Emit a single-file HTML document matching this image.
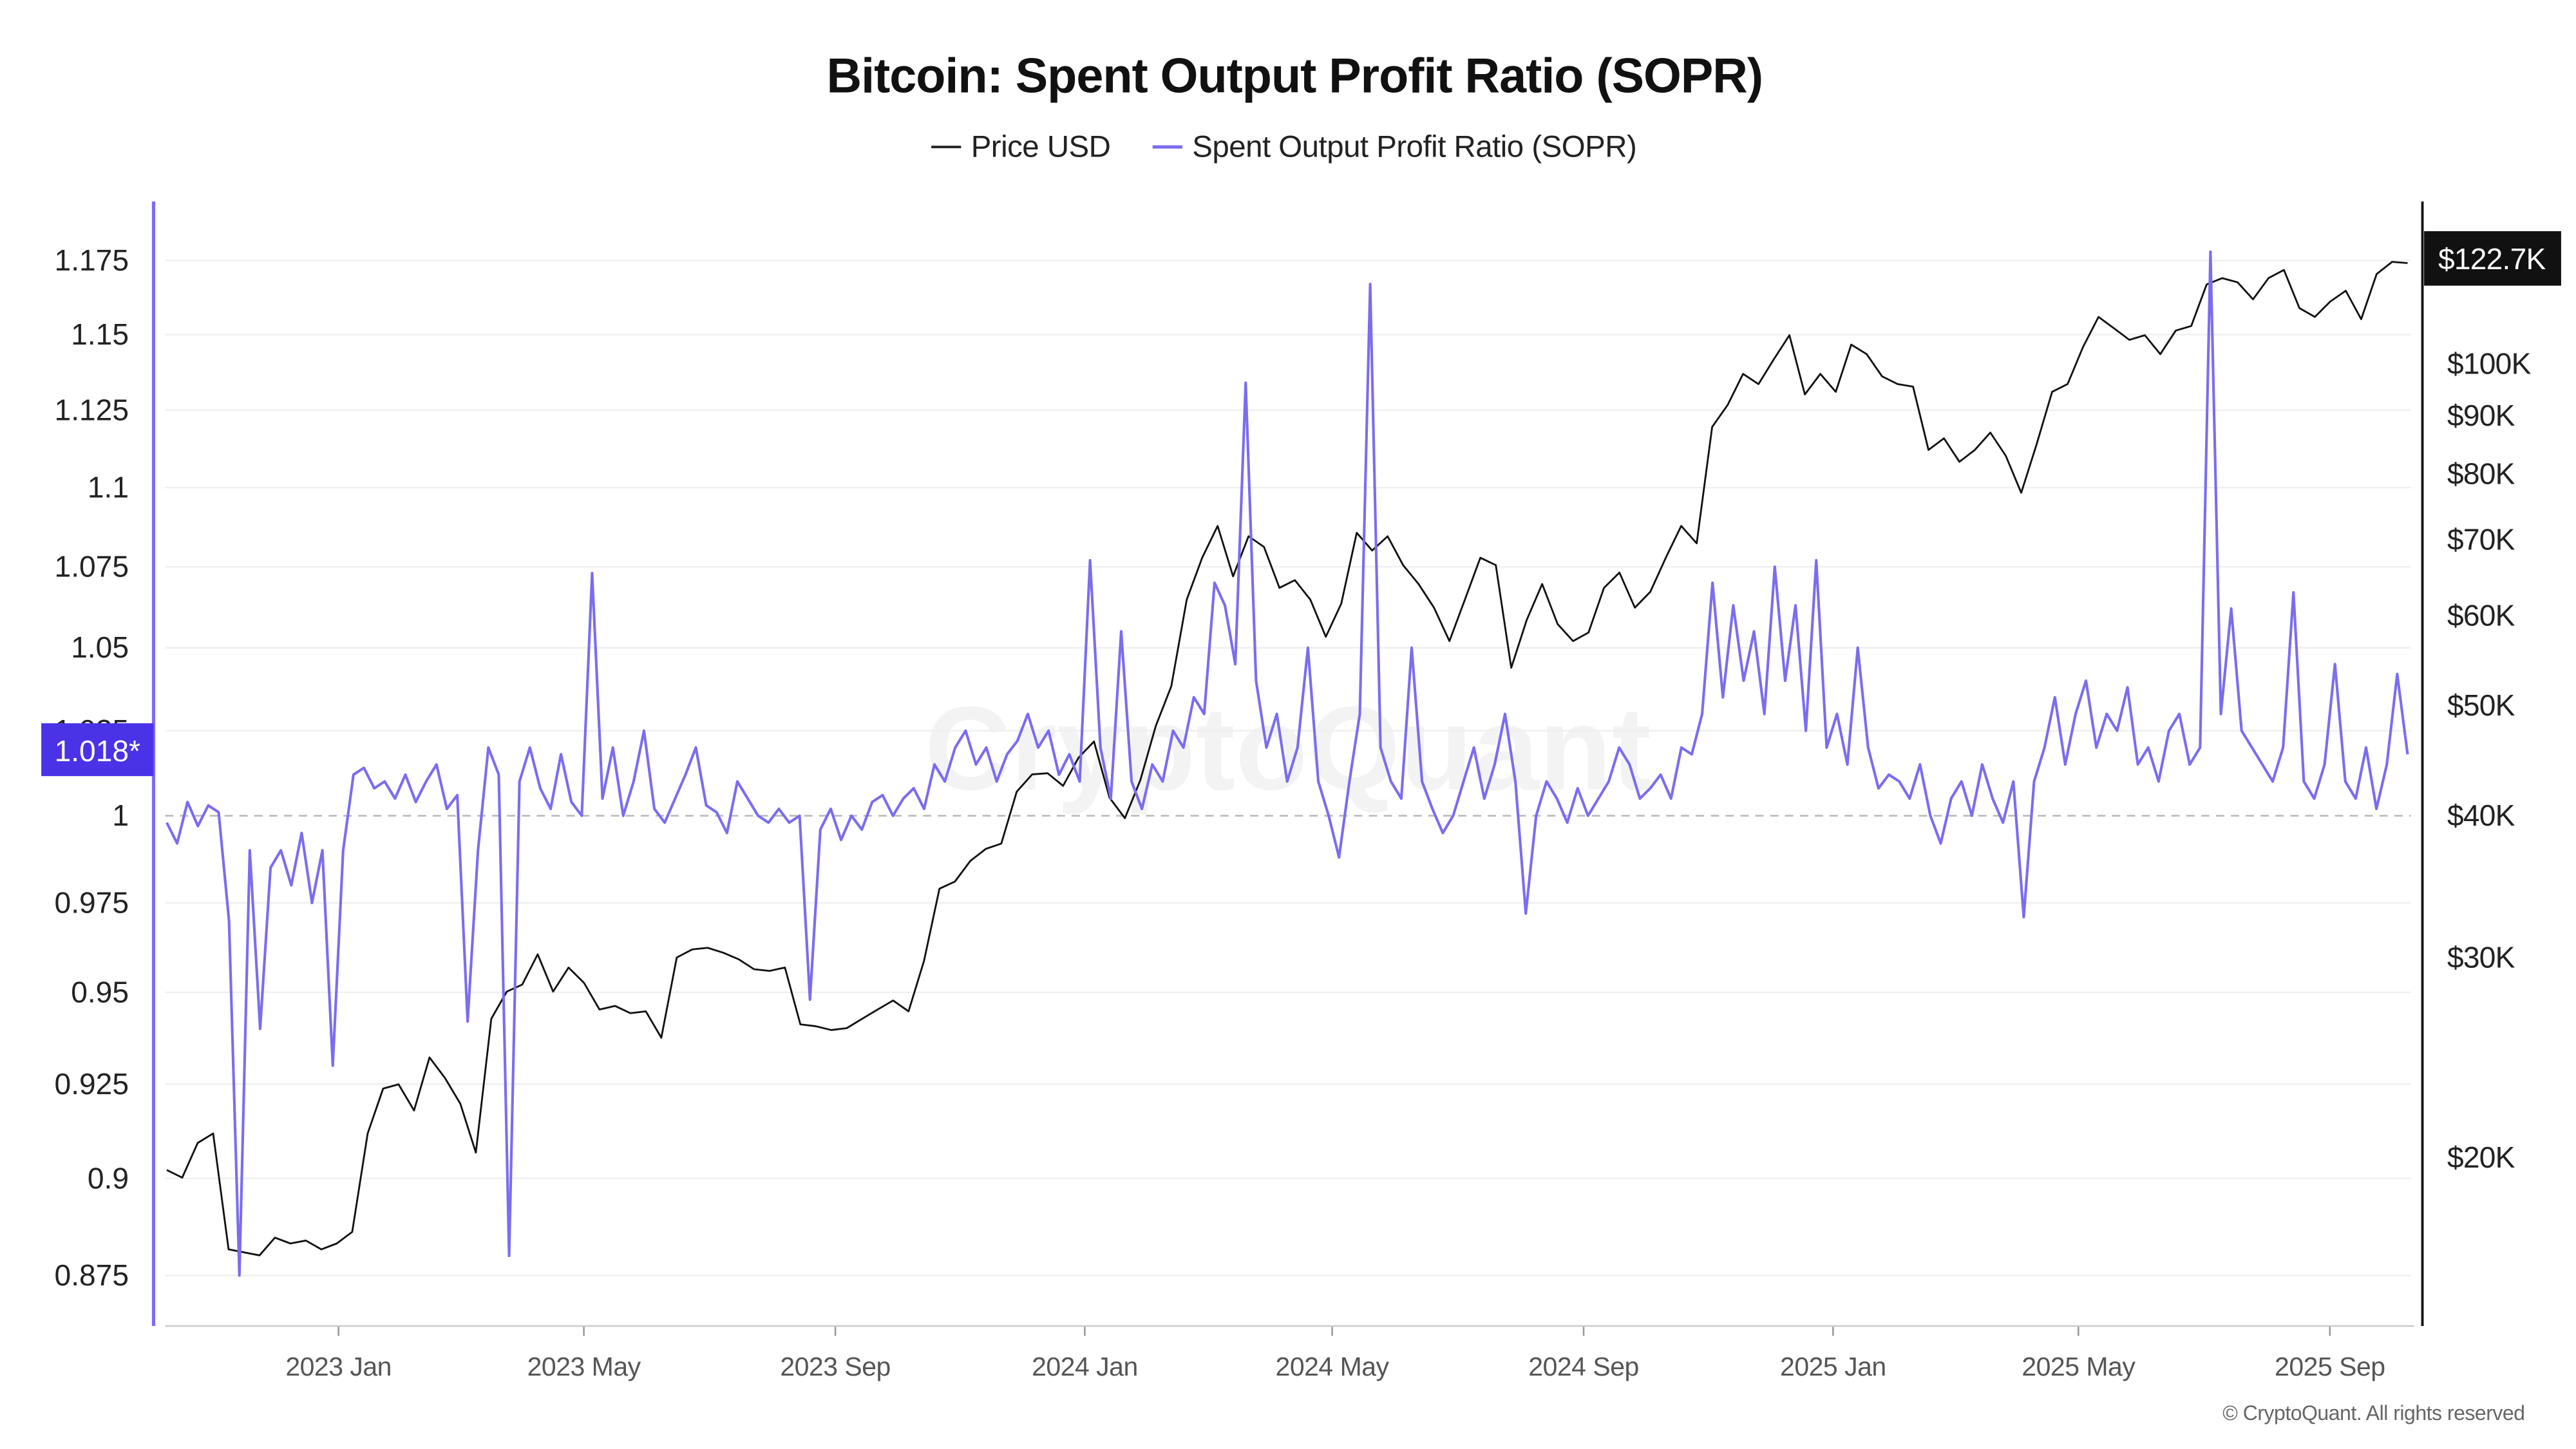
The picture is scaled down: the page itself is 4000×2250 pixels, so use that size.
<!DOCTYPE html>
<html><head><meta charset="utf-8">
<style>
html,body{margin:0;padding:0;background:#fff;}
svg{display:block;font-family:"Liberation Sans",sans-serif;}
</style></head>
<body>
<svg id="chart" width="4000" height="2250" viewBox="0 0 1560 877.5" preserveAspectRatio="none" xmlns="http://www.w3.org/2000/svg">
<rect x="0" y="0" width="1560" height="877.5" fill="#fff"/>
<text x="784" y="56" text-anchor="middle" font-size="29.5" font-weight="bold" fill="#111" letter-spacing="-0.4">Bitcoin: Spent Output Profit Ratio (SOPR)</text>
<g>
  <g>
    <line x1="564" y1="89" x2="582" y2="89" stroke="#222" stroke-width="1.5"/>
    <text x="588" y="95" font-size="18.5" fill="#222" letter-spacing="-0.2">Price USD</text>
  </g>
  <g>
    <line x1="698" y1="89" x2="716" y2="89" stroke="#7b6cf0" stroke-width="2"/>
    <text x="722" y="95" font-size="18.5" fill="#222" letter-spacing="-0.2">Spent Output Profit Ratio (SOPR)</text>
  </g>
</g>
<text x="780" y="478" text-anchor="middle" font-size="72" font-weight="bold" fill="#000" opacity="0.045">CryptoQuant</text>
<g id="grid"></g>
<g id="yleft"></g>
<g id="yright"></g>
<g id="xaxis"></g>
<g id="series"></g>
<line x1="93" y1="122" x2="93" y2="803" stroke="#7b6cf0" stroke-width="2"/>
<line x1="1467" y1="122" x2="1467" y2="803" stroke="#111" stroke-width="1.5"/>
<line x1="100" y1="803" x2="1462" y2="803" stroke="#ccc" stroke-width="1"/>
<g>
  <rect x="25" y="438" width="68" height="32" fill="#4a33e6"/>
  <text x="59" y="461" text-anchor="middle" font-size="18" fill="#fff">1.018*</text>
</g>
<g>
  <rect x="1468" y="140" width="83" height="33" fill="#111"/>
  <text x="1509" y="163" text-anchor="middle" font-size="18" fill="#fff" letter-spacing="-0.3">$122.7K</text>
</g>
<text x="1529" y="860" text-anchor="end" font-size="12.5" fill="#666" letter-spacing="-0.2">© CryptoQuant. All rights reserved</text>
</svg>
<script>
const leftTicks = [1.175,1.15,1.125,1.1,1.075,1.05,1.025,1,0.975,0.95,0.925,0.9,0.875];
const leftTickLabels = ["1.175","1.15","1.125","1.1","1.075","1.05","1.025","1","0.975","0.95","0.925","0.9","0.875"];
const rightTicks = [100000,90000,80000,70000,60000,50000,40000,30000,20000];
const rightTickLabels = ["$100K","$90K","$80K","$70K","$60K","$50K","$40K","$30K","$20K"];
const xTickDates = ["2023-01-01","2023-05-01","2023-09-01","2024-01-01","2024-05-01","2024-09-01","2025-01-01","2025-05-01","2025-09-01"];
const xTickLabels = ["2023 Jan","2023 May","2023 Sep","2024 Jan","2024 May","2024 Sep","2025 Jan","2025 May","2025 Sep"];
const startDate = "2022-10-09";
const endDate = "2025-10-09";
const priceValues = [19.5,19.2,20.6,
21.0,16.6,16.5,16.4, 17.0,16.8,16.9,16.6,
16.8,17.2,21.0,23.0, 23.2,22.0,24.5,23.5, 22.3,20.2,26.5,28.0, 28.4,30.2,28.0,29.4,
28.5,27.0,27.2,26.8, 26.9,25.5,30.0,30.5, 30.6,30.3,29.9,29.3, 29.2,29.4,26.2,26.1,
25.9,26.0,26.5,27.0, 27.5,26.9,29.8,34.5, 35.0,36.5,37.4,37.8, 42.0,43.5,43.6,42.5,
45.0,46.5,41.5,39.8, 43.0,48.0,52.0,62.0, 67.5,72.0,65.0,70.5, 69.0,63.5,64.5,62.0,
57.5,61.5,71.0,68.5, 70.5,66.5,64.0,61.0, 57.0,62.0,67.5,66.5, 54.0,59.5,64.0,59.0,
57.0,58.0,63.5,65.5, 61.0,63.0,67.5,72.0, 69.5,88.0,92.0,98.0, 96.0,101.0,106.0,94.0,
98.0,94.5,104.0,102.0, 97.5,96.0,95.5,84.0, 86.0,82.0,84.0,87.0, 83.0,77.0,85.0,94.5,
96.0,103.5,110.0,107.5, 105.0,106.0,102.0,107.0, 108.0,117.5,119.0,118.0, 114.0,119.0,121.0,112.0,
110.0,113.5,116.0,109.5, 120.0,123.0,122.7];
const soprValues = [0.998,0.992,1.004,0.997,1.003,
1.001,0.97,0.875,0.99,0.94,0.985, 0.99,0.98,0.995,0.975,0.99,0.93,
0.99,1.012,1.014,1.008,1.01,1.005, 1.012,1.004,1.01,1.015,1.002,1.006,
0.942,0.99,1.02,1.012,0.88,1.01, 1.02,1.008,1.002,1.018,1.004,1.0,
1.073,1.005,1.02,1.0,1.01,1.025, 1.002,0.998,1.005,1.012,1.02,1.003,
1.001,0.995,1.01,1.005,1.0,0.998, 1.002,0.998,1.0,0.948,0.996,1.002,
0.993,1.0,0.996,1.004,1.006,1.0, 1.005,1.008,1.002,1.015,1.01,1.02,
1.025,1.015,1.02,1.01,1.018,1.022, 1.03,1.02,1.025,1.012,1.018,1.01,
1.077,1.02,1.005,1.055,1.01,1.002, 1.015,1.01,1.025,1.02,1.035,1.03,
1.07,1.063,1.045,1.134,1.04,1.02, 1.03,1.01,1.02,1.05,1.01,1.0,
0.988,1.01,1.03,1.167,1.02,1.01, 1.005,1.05,1.01,1.002,0.995,1.0,
1.01,1.02,1.005,1.015,1.03,1.01, 0.972,1.0,1.01,1.005,0.998,1.008,
1.0,1.005,1.01,1.02,1.015,1.005, 1.008,1.012,1.005,1.02,1.018,1.03,
1.07,1.035,1.063,1.04,1.055,1.03, 1.075,1.04,1.063,1.025,1.077,1.02,
1.03,1.015,1.05,1.02,1.008,1.012, 1.01,1.005,1.015,1.0,0.992,1.005,
1.01,1.0,1.015,1.005,0.998,1.01, 0.971,1.01,1.02,1.035,1.015,1.03,
1.04,1.02,1.03,1.025,1.038,1.015, 1.02,1.01,1.025,1.03,1.015,1.02,
1.178,1.03,1.062,1.025,1.02,1.015, 1.01,1.02,1.067,1.01,1.005,1.015,
1.045,1.01,1.005,1.02,1.002,1.015, 1.042,1.018];

const NS = "http://www.w3.org/2000/svg";
const X0 = 101, X1 = 1458;
const t0 = Date.parse(startDate), t1 = Date.parse(endDate);
function xOfTime(t){ return X0 + (t - t0) / (t1 - t0) * (X1 - X0); }
function xOfIndex(i, n){ return xOfTime(t0 + i / (n - 1) * (t1 - t0)); }
function yLeft(v){ return 494 - 2085 * Math.log(v); }
function yRight(p){ return 494 - 298.6 * Math.log(p / 40000); }
function mk(tag, attrs, parent){ const e = document.createElementNS(NS, tag); for (const k in attrs) e.setAttribute(k, attrs[k]); parent.appendChild(e); return e; }

const grid = document.getElementById('grid');
const yl = document.getElementById('yleft');
leftTicks.forEach((v, i) => {
  const y = yLeft(v);
  const gl = mk('line', {x1:100, x2:1460, y1:y, y2:y, stroke: v === 1 ? '#bbb' : '#f0f0f0', 'stroke-width':1, 'stroke-dasharray': v === 1 ? '5,4' : 'none'}, grid);
  
  
  const t = mk('text', {x:78, y:y + 6, 'text-anchor':'end', 'font-size':18, fill:'#222'}, yl);
  t.textContent = leftTickLabels[i];
  
  
});
const yr = document.getElementById('yright');
rightTicks.forEach((p, i) => {
  const t = mk('text', {x:1482, y:yRight(p) + 6, 'font-size':18, fill:'#222', 'letter-spacing':'-0.3'}, yr);
  t.textContent = rightTickLabels[i];
  
  
});
const xa = document.getElementById('xaxis');
xTickDates.forEach((d, i) => {
  const x = xOfTime(Date.parse(d));
  const tk = mk('line', {x1:x, x2:x, y1:803, y2:809, stroke:'#999', 'stroke-width':1}, xa);
  
  
  const t = mk('text', {x:x, y:833, 'text-anchor':'middle', 'font-size':16, fill:'#555', 'letter-spacing':'-0.2'}, xa);
  t.textContent = xTickLabels[i];
  
  
});
const ser = document.getElementById('series');
let dp = '';
priceValues.forEach((v, i) => { dp += (i ? 'L' : 'M') + xOfIndex(i, priceValues.length).toFixed(2) + ',' + yRight(v * 1000).toFixed(2); });
const pl = mk('path', {d:dp, fill:'none', stroke:'#111', 'stroke-width':1.1, 'stroke-linejoin':'round'}, ser);


let ds = '';
soprValues.forEach((v, i) => { ds += (i ? 'L' : 'M') + xOfIndex(i, soprValues.length).toFixed(2) + ',' + yLeft(v).toFixed(2); });
const sl = mk('path', {d:ds, fill:'none', stroke:'#7b6cf0', 'stroke-width':1.6, 'stroke-linejoin':'round'}, ser);


</script>
</body></html>
